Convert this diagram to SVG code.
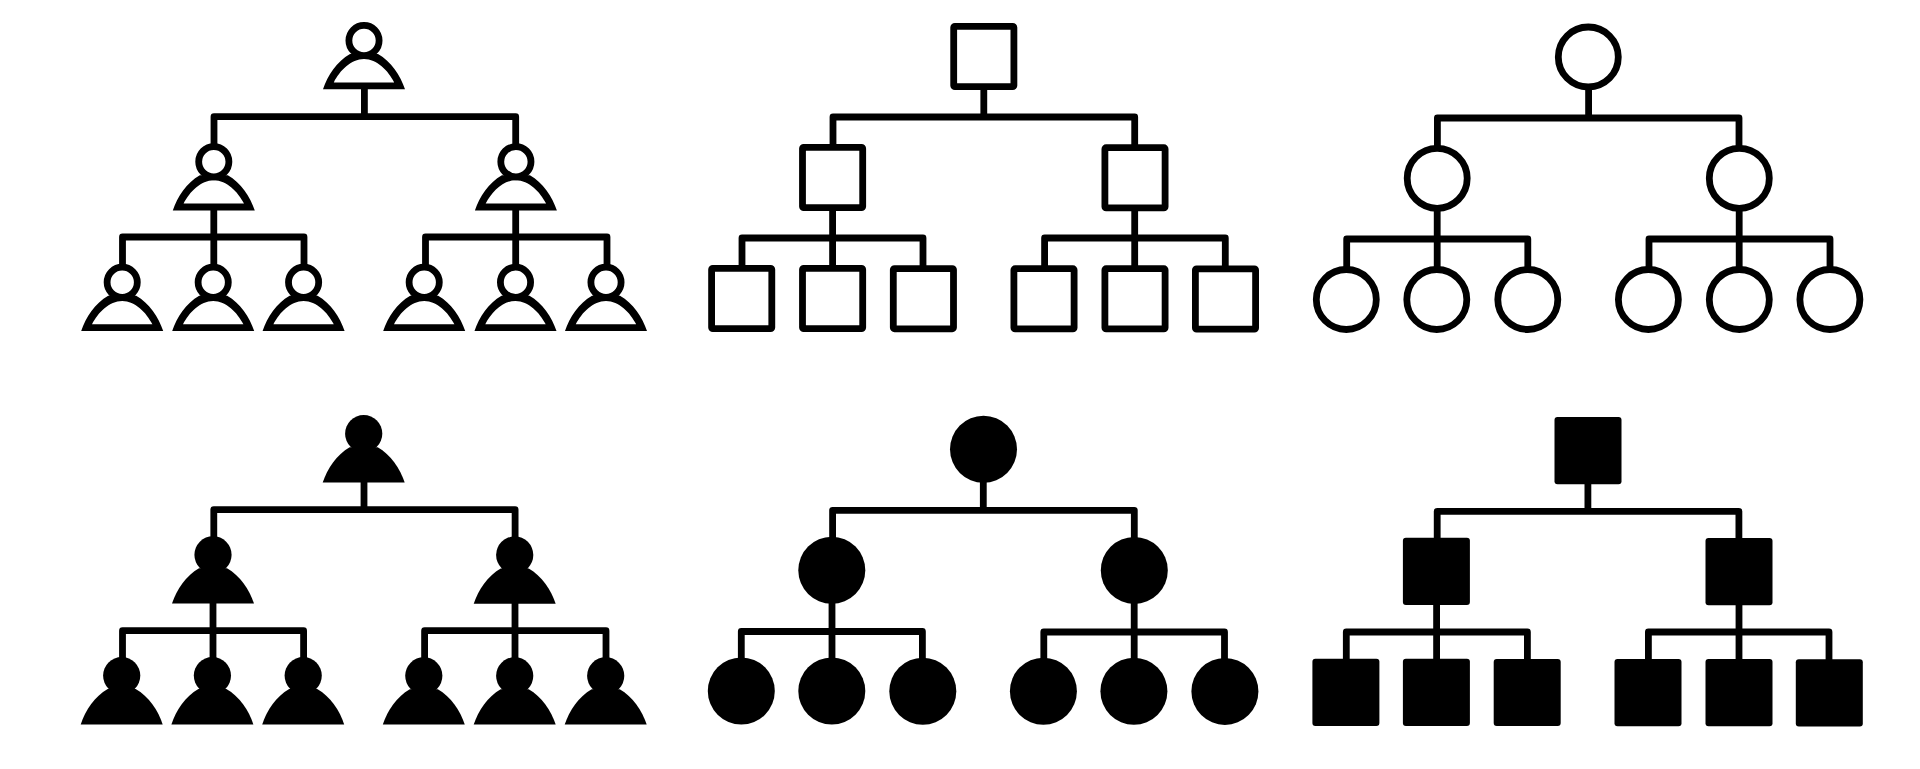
<svg xmlns="http://www.w3.org/2000/svg" width="1920" height="769" viewBox="0 0 1920 769">
<style>
.c{fill:none;stroke:#000;stroke-width:6.8;stroke-linejoin:round;stroke-linecap:butt}
.so{fill:#fff;stroke:#000;stroke-width:6.8;stroke-linejoin:round}
.co{fill:#fff;stroke:#000;stroke-width:6.8}
.sf{fill:#000}
</style>
<defs>
<g id="personO">
<path class="sf" fill-rule="evenodd" d="M-41,48.8C-36.5,35-27,21-14,13.5L14,13.5C27,21 36.5,35 41,48.8ZM-30.2,41.9C-24,30-13,18.6 0,18.6C13,18.6 24,30 30.2,41.9Z"/>
<circle class="co" r="15.1"/>
</g>
<g id="personF">
<path class="sf" d="M-41,48.8C-36.5,35-27,21-14,13.5L14,13.5C27,21 36.5,35 41,48.8Z"/>
<circle class="sf" r="18.6"/>
</g>
<rect id="squareO" class="so" x="-30.1" y="-30.1" width="60.2" height="60.2" rx="1.2"/>
<rect id="squareF" class="sf" x="-33.5" y="-33.6" width="67" height="67.2" rx="3"/>
<circle id="circleO" class="co" r="30"/>
<circle id="circleF" class="sf" r="33.5"/>
</defs>
<rect width="1920" height="769" fill="#fff"/>
<g id="connectors">
<path class="c" d="M364.4,88V116.7M214,144V116.7H515.7V144M213.8,210V237M515.7,210V237M122.5,265V237H304V265M213.8,237V265M425.5,265V237H607V265M515.7,237V265"/>
<path class="c" d="M983.8,89V117M833,146V117H1134.7V146M832.6,210V238M1134.7,210V238M742,267V238H923V267M832.6,238V267M1044.6,267V238H1225.3V267M1134.7,238V267"/>
<path class="c" d="M1588.6,89V118M1437.4,147V118H1739V147M1437.2,210V239M1739.2,210V239M1346.7,268V239H1527.8V268M1437.2,239V268M1649,268V239H1830V268M1739.2,239V268"/>
<path class="c" d="M364,481V509.7M213.8,538V509.7H515.1V538M213,602V630.7M515,602V630.7M122.5,659V630.7H303.6V659M213,630.7V659M424.6,659V630.7H606V659M515,630.7V659"/>
<path class="c" d="M983.3,481V510.3M832.6,540V510.3H1134.3V540M832,602V631.5M1134.2,602V632M741.3,660V631.5H922.4V660M832,631.5V660M1043.8,660V632H1224.5V660M1134.2,632V660"/>
<path class="c" d="M1587.9,483V511.3M1437.2,540V511.3H1738.9V540M1436.6,604V632M1739,604V632M1346.3,660V632H1527.4V660M1436.6,632V660M1648.4,660V632H1829V660M1739,632V660"/>
</g>
<g id="person-outline-root"><use href="#personO" x="364" y="40.5"/></g>
<g id="person-outline-l2a"><use href="#personO" x="213.8" y="161.7"/></g>
<g id="person-outline-l2b"><use href="#personO" x="515.9" y="161.7"/></g>
<g id="person-outline-l3a"><use href="#personO" x="122.2" y="282.3"/></g>
<g id="person-outline-l3b"><use href="#personO" x="213.2" y="282.3"/></g>
<g id="person-outline-l3c"><use href="#personO" x="303.6" y="282.3"/></g>
<g id="person-outline-l3d"><use href="#personO" x="424.2" y="282.3"/></g>
<g id="person-outline-l3e"><use href="#personO" x="515.5" y="282.3"/></g>
<g id="person-outline-l3f"><use href="#personO" x="606" y="282.3"/></g>
<g id="square-outline-root"><use href="#squareO" x="983.8" y="56.5"/></g>
<g id="square-outline-l2a"><use href="#squareO" x="832.6" y="177.5"/></g>
<g id="square-outline-l2b"><use href="#squareO" x="1135" y="177.8"/></g>
<g id="square-outline-l3a"><use href="#squareO" x="741.7" y="298.5"/></g>
<g id="square-outline-l3b"><use href="#squareO" x="832.6" y="298.5"/></g>
<g id="square-outline-l3c"><use href="#squareO" x="923.4" y="298.7"/></g>
<g id="square-outline-l3d"><use href="#squareO" x="1044" y="298.8"/></g>
<g id="square-outline-l3e"><use href="#squareO" x="1135" y="298.8"/></g>
<g id="square-outline-l3f"><use href="#squareO" x="1225.5" y="299"/></g>
<g id="circle-outline-root"><use href="#circleO" x="1588.3" y="57"/></g>
<g id="circle-outline-l2a"><use href="#circleO" x="1437.2" y="178.3"/></g>
<g id="circle-outline-l2b"><use href="#circleO" x="1739.3" y="178.3"/></g>
<g id="circle-outline-l3a"><use href="#circleO" x="1346.3" y="299.5"/></g>
<g id="circle-outline-l3b"><use href="#circleO" x="1436.8" y="299.5"/></g>
<g id="circle-outline-l3c"><use href="#circleO" x="1527.8" y="299.5"/></g>
<g id="circle-outline-l3d"><use href="#circleO" x="1648.4" y="299.5"/></g>
<g id="circle-outline-l3e"><use href="#circleO" x="1739.3" y="299.5"/></g>
<g id="circle-outline-l3f"><use href="#circleO" x="1829.9" y="299.5"/></g>
<g id="person-solid-root"><use href="#personF" x="363.7" y="433.7"/></g>
<g id="person-solid-l2a"><use href="#personF" x="213" y="554.8"/></g>
<g id="person-solid-l2b"><use href="#personF" x="514.7" y="555"/></g>
<g id="person-solid-l3a"><use href="#personF" x="121.7" y="675.6"/></g>
<g id="person-solid-l3b"><use href="#personF" x="212.4" y="675.6"/></g>
<g id="person-solid-l3c"><use href="#personF" x="303.2" y="675.6"/></g>
<g id="person-solid-l3d"><use href="#personF" x="423.8" y="675.8"/></g>
<g id="person-solid-l3e"><use href="#personF" x="514.7" y="675.8"/></g>
<g id="person-solid-l3f"><use href="#personF" x="605.7" y="675.8"/></g>
<g id="circle-solid-root"><use href="#circleF" x="983.5" y="449.2"/></g>
<g id="circle-solid-l2a"><use href="#circleF" x="831.8" y="570.2"/></g>
<g id="circle-solid-l2b"><use href="#circleF" x="1134.3" y="570.4"/></g>
<g id="circle-solid-l3a"><use href="#circleF" x="741.3" y="691"/></g>
<g id="circle-solid-l3b"><use href="#circleF" x="831.8" y="691"/></g>
<g id="circle-solid-l3c"><use href="#circleF" x="922.8" y="691.2"/></g>
<g id="circle-solid-l3d"><use href="#circleF" x="1043.4" y="691.2"/></g>
<g id="circle-solid-l3e"><use href="#circleF" x="1133.9" y="691.2"/></g>
<g id="circle-solid-l3f"><use href="#circleF" x="1224.9" y="691.4"/></g>
<g id="square-solid-root"><use href="#squareF" x="1588" y="450.7"/></g>
<g id="square-solid-l2a"><use href="#squareF" x="1436.4" y="571.3"/></g>
<g id="square-solid-l2b"><use href="#squareF" x="1739" y="571.6"/></g>
<g id="square-solid-l3a"><use href="#squareF" x="1345.9" y="692.3"/></g>
<g id="square-solid-l3b"><use href="#squareF" x="1436.4" y="692.3"/></g>
<g id="square-solid-l3c"><use href="#squareF" x="1527.2" y="692.5"/></g>
<g id="square-solid-l3d"><use href="#squareF" x="1648" y="692.6"/></g>
<g id="square-solid-l3e"><use href="#squareF" x="1739" y="692.6"/></g>
<g id="square-solid-l3f"><use href="#squareF" x="1829.3" y="692.8"/></g>
</svg>
